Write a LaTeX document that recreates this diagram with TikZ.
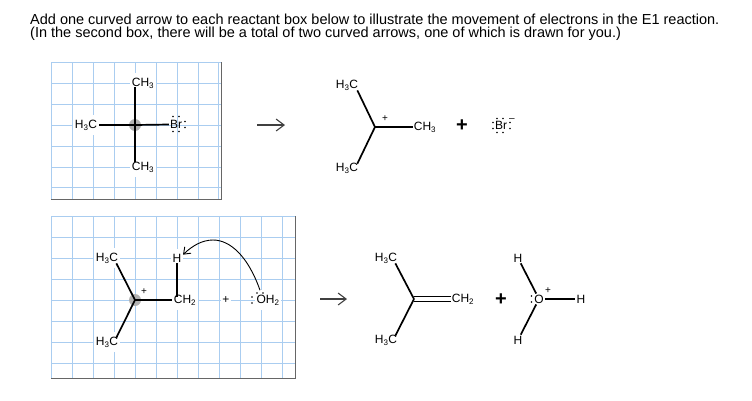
\documentclass[tikz,border=0pt]{standalone}
\usepackage{fontspec}
\setmainfont{Liberation Sans}
\usepackage{tikz}
\usetikzlibrary{arrows,arrows.meta,positioning,calc}

\tikzset{
    gridline/.style={draw={rgb,255:red,170;green,205;blue,240},line width=0.9pt},
    boxedge/.style={draw=black!60,line width=0.9pt},
    bond/.style={line width=1.7pt,black},
    group/.style={font=\fontsize{12}{14}\selectfont,fill=white,inner xsep=1.5pt,inner ysep=4.5pt},
    plaingroup/.style={font=\fontsize{12}{14}\selectfont,inner sep=1pt},
    charge/.style={font=\fontsize{10}{10}\selectfont,inner sep=0pt},
    sumsign/.style={font=\fontsize{20}{20}\bfseries\selectfont,inner sep=0pt},
    centre/.style={circle,fill=black!30,minimum size=12pt,inner sep=0pt},
    lone/.style={circle,fill=black,minimum size=1.7pt,inner sep=0pt},
    rxn/.style={-{Straight Barb[length=8pt,width=12pt]},line width=1.1pt,black!75}
}

\begin{document}
\begin{tikzpicture}[x=1pt,y=-1pt]
            \useasboundingbox (0,0) rectangle (752,400);

            % Question text
            \node[anchor=west,inner sep=0pt,font=\fontsize{14.5}{16}\selectfont] (line1) at (30,19) {Add one curved arrow to each reactant box below to illustrate the movement of electrons in the E1 reaction.};
            \node[anchor=west,inner sep=0pt,font=\fontsize{14.5}{16}\selectfont] (line2) at (30,34) {(In the second box, there will be a total of two curved arrows, one of which is drawn for you.)};

            % ================== First box ==================
            \foreach \x in {72,93,114,135,156,177,198,218} {
                \draw[gridline] (\x,62) -- (\x,199);
            }
            \foreach \y in {83,104,125,146,167,187} {
                \draw[gridline] (51,\y) -- (221,\y);
            }
            \draw[gridline] (51,62) -- (221,62);
            \draw[gridline] (51,62) -- (51,199);
            \draw[boxedge] (51,199) -- (221,199) -- (221,62);

            % First box groups
            \node[centre] (ctrA) at (135,125) {};
            \node[group] (topA) at (143,83) {CH\textsubscript{3}};
            \node[group] (botA) at (143,167) {CH\textsubscript{3}};
            \node[group] (leftA) at (86,125) {H\textsubscript{3}C};
            \node[plaingroup] (brA) at (176,124.5) {Br};

            % First box bonds
            \draw[bond] (ctrA.center) -- ($(ctrA |- topA.south)+(0,-5.5)$);
            \draw[bond] (ctrA.center) -- ($(ctrA |- botA.north)+(0,4.5)$);
            \draw[bond] (ctrA.center) -- (leftA.east);
            \draw[bond] (ctrA.center) -- (brA.west);

            % First box lone pairs
            \foreach \dx/\dy in {-3/-8,3/-8,-3/7,3/7,9/-3,9/3} {
                \node[lone] at ($(brA)+(\dx,\dy)$) {};
            }

            % ================== First product ==================
            \draw[rxn] (257,125) -- (285,125);
            \coordinate (ctrB) at (375,127);
            \node[plaingroup] (topB) at (347,85) {H\textsubscript{3}C};
            \node[plaingroup] (botB) at (347,168) {H\textsubscript{3}C};
            \node[plaingroup] (rightB) at (425,127) {CH\textsubscript{3}};
            \node[charge] (plusB) at (385,119) {+};
            \node[sumsign] (sumB) at (462,126) {+};
            \node[plaingroup] (brB) at (501,125.5) {Br};
            \node[charge] (minusB) at (512,120) {--};

            \draw[bond] (ctrB) -- ($(topB.south east)+(-2,-1)$);
            \draw[bond] (ctrB) -- ($(botB.north east)+(-2,2)$);
            \draw[bond] (ctrB) -- (rightB.west);
            \foreach \dx/\dy in {-4/-7,2/-7,-4/7,2/7,-8/-3,-8/3,9/-3,9/3} {
                \node[lone] at ($(brB)+(\dx,\dy)$) {};
            }

            % ================== Second box ==================
            \foreach \x in {72,93,114,135,156,177,198,219,240,261,282} {
                \draw[gridline] (\x,216) -- (\x,378);
            }
            \foreach \y in {237,258,279,300,321,342,363} {
                \draw[gridline] (51,\y) -- (295,\y);
            }
            \draw[gridline] (51,216) -- (295,216);
            \draw[gridline] (51,216) -- (51,378);
            \draw[boxedge] (295,216) -- (295,378) -- (51,378);

            % Second box groups
            \node[centre] (ctrC) at (135,300) {};
            \node[group] (topC) at (107,258) {H\textsubscript{3}C};
            \node[group] (botC) at (107,342) {H\textsubscript{3}C};
            \node[group] (chC) at (185,300) {CH\textsubscript{2}};
            \node[group] (hC) at (177,258) {H};
            \node[charge] (plusC) at (144,292) {+};
            \node[group] (sumC) at (226,300) {+};
            \node[group] (waterC) at (268,300) {OH\textsubscript{2}};

            % Second box bonds
            \draw[bond] (ctrC.center) -- ($(topC.south east)+(-3.5,-4.5)$);
            \draw[bond] (ctrC.center) -- ($(botC.north east)+(-3.5,5.5)$);
            \draw[bond] (ctrC.center) -- (chC.west);
            \draw[bond] ($(hC.south)+(0,-3.5)$) -- ($(hC |- chC.north)+(0,6.5)$);

            % Second box lone pairs
            \foreach \dx/\dy in {-16/-3,-16/3,-11/-7,-5/-7} {
                \node[lone] at ($(waterC)+(\dx,\dy)$) {};
            }

            % Curved arrow already drawn
            \coordinate (arrowTail) at ($(waterC.north)+(-8,0)$);
            \draw[-{Straight Barb[length=6pt,width=9pt]},line width=0.9pt] (arrowTail) .. controls (248,256) and (230,240) .. (213,240) .. controls (202,240) and (192,246) .. ($(hC.north east)+(0,5.5)$);

            % ================== Second product ==================
            \draw[rxn] (320,299) -- (347,299);
            \coordinate (ctrD) at (414,299);
            \node[plaingroup] (topD) at (386,258) {H\textsubscript{3}C};
            \node[plaingroup] (botD) at (386,340) {H\textsubscript{3}C};
            \node[plaingroup] (chD) at (463,299) {CH\textsubscript{2}};
            \node[sumsign] (sumD) at (501,300) {+};
            \node[plaingroup] (oD) at (539,299) {O};
            \node[plaingroup] (hTopD) at (518,258) {H};
            \node[plaingroup] (hBotD) at (518,340) {H};
            \node[plaingroup] (hRightD) at (581,299) {H};
            \node[charge] (plusD) at (548,291) {+};

            \draw[bond] (ctrD) -- ($(topD.south east)+(-3,-1)$);
            \draw[bond] (ctrD) -- ($(botD.north east)+(-3,2)$);
            \draw[bond] ($(ctrD)+(0,-2.5)$) -- ($(chD.west)+(0,-2.5)$);
            \draw[bond] ($(ctrD)+(0,2.5)$) -- ($(chD.west)+(0,2.5)$);
            \draw[bond] (oD) -- (hTopD);
            \draw[bond] (oD) -- (hBotD);
            \draw[bond] (oD) -- (hRightD);
            \foreach \dy in {-3,3} {
                \node[lone] at ($(oD)+(-7.5,\dy)$) {};
            }

        \end{tikzpicture}
\end{document}
